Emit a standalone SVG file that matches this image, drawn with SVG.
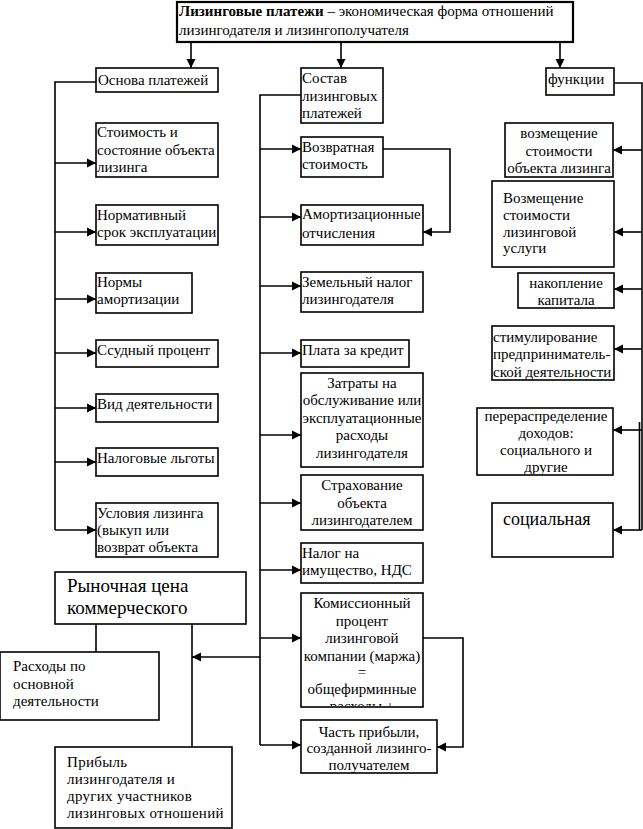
<svg xmlns="http://www.w3.org/2000/svg" width="643" height="829" viewBox="0 0 643 829">
<style>
  .box{fill:#fff;stroke:#000;stroke-width:1.6}
  .t{font-family:"Liberation Serif","Times New Roman",serif;font-size:15px;fill:#000}
  .c{text-anchor:middle}
  .ln{fill:none;stroke:#000;stroke-width:1.6}
  .ar{fill:none;stroke:#000;stroke-width:1.6;marker-end:url(#ah)}
</style>
<defs>
  <marker id="ah" markerUnits="userSpaceOnUse" markerWidth="10" markerHeight="10" refX="9" refY="5" orient="auto">
    <path d="M0,0.5 L9,5 L0,9.5 Z" fill="#000"/>
  </marker>
  <clipPath id="cpKom"><rect x="302" y="594" width="120" height="112"/></clipPath>
  <clipPath id="cpPer"><rect x="478" y="409" width="135" height="65"/></clipPath>
</defs>
<rect width="643" height="829" fill="#fff"/>

<g id="connectors">
  <line class="ar" x1="191" y1="42" x2="191" y2="68"/>
  <line class="ar" x1="341" y1="42" x2="341" y2="68"/>
  <line class="ar" x1="560" y1="42" x2="560" y2="68"/>
  <!-- left trunk -->
  <polyline class="ln" points="96,82 55,82 55,530"/>
  <line class="ar" x1="55" y1="163" x2="96" y2="163"/>
  <line class="ar" x1="55" y1="232" x2="96" y2="232"/>
  <line class="ar" x1="55" y1="299" x2="96" y2="299"/>
  <line class="ar" x1="55" y1="353" x2="96" y2="353"/>
  <line class="ar" x1="55" y1="408" x2="96" y2="408"/>
  <line class="ar" x1="55" y1="462" x2="96" y2="462"/>
  <line class="ar" x1="55" y1="530" x2="96" y2="530"/>
  <!-- middle trunk -->
  <polyline class="ln" points="301,95 260,95 260,745"/>
  <line class="ar" x1="260" y1="149" x2="301" y2="149"/>
  <line class="ar" x1="260" y1="217" x2="301" y2="217"/>
  <line class="ar" x1="260" y1="286" x2="301" y2="286"/>
  <line class="ar" x1="260" y1="353" x2="301" y2="353"/>
  <line class="ar" x1="260" y1="435" x2="301" y2="435"/>
  <line class="ar" x1="260" y1="503" x2="301" y2="503"/>
  <line class="ar" x1="260" y1="570" x2="301" y2="570"/>
  <line class="ar" x1="260" y1="638" x2="301" y2="638"/>
  <line class="ar" x1="260" y1="745" x2="301" y2="745"/>
  <line class="ar" x1="260" y1="657" x2="192" y2="657"/>
  <polyline class="ar" points="383,149 450,149 450,232 423,232"/>
  <polyline class="ar" points="423,638 463,638 463,747 437,747"/>
  <!-- right trunk -->
  <polyline class="ln" points="614,83 642,83 642,530"/>
  <line class="ln" x1="639.5" y1="422" x2="639.5" y2="530"/>
  <line class="ar" x1="642" y1="150" x2="613" y2="150"/>
  <line class="ar" x1="642" y1="232" x2="614" y2="232"/>
  <line class="ar" x1="642" y1="289" x2="614" y2="289"/>
  <line class="ar" x1="642" y1="349" x2="614" y2="349"/>
  <line class="ar" x1="642" y1="430" x2="613" y2="430"/>
  <line class="ar" x1="642" y1="530" x2="613" y2="530"/>
  <!-- market price splits -->
  <line class="ln" x1="96" y1="624" x2="96" y2="652"/>
  <line class="ln" x1="192" y1="624" x2="192" y2="747"/>
</g>

<g id="top">
  <rect class="box" x="177" y="2" width="396" height="40" style="stroke-width:2.2"/>
  <text class="t" x="179" y="16"><tspan font-weight="bold">Лизинговые платежи</tspan> – экономическая форма отношений</text>
  <text class="t" x="179" y="35">лизингодателя и лизингополучателя</text>
</g>

<g id="osnova">
  <rect class="box" x="96" y="68" width="122" height="24"/>
  <text class="t" x="98" y="85">Основа платежей</text>
</g>
<g id="sostav">
  <rect class="box" x="301" y="68" width="82" height="55"/>
  <text class="t" x="302" y="83">Состав</text>
  <text class="t" x="302" y="101">лизинговых</text>
  <text class="t" x="302" y="118">платежей</text>
</g>
<g id="funkcii">
  <rect class="box" x="546" y="68" width="68" height="27"/>
  <text class="t" x="548" y="84">функции</text>
</g>

<g id="stoimost">
  <rect class="box" x="96" y="123" width="122" height="54"/>
  <text class="t" x="97" y="137">Стоимость и</text>
  <text class="t" x="97" y="155">состояние объекта</text>
  <text class="t" x="97" y="172">лизинга</text>
</g>
<g id="normsrok">
  <rect class="box" x="96" y="205" width="122" height="40"/>
  <text class="t" x="97" y="220">Нормативный</text>
  <text class="t" x="97" y="237">срок эксплуатации</text>
</g>
<g id="normy">
  <rect class="box" x="96" y="273" width="96" height="40"/>
  <text class="t" x="97" y="287">Нормы</text>
  <text class="t" x="97" y="304">амортизации</text>
</g>
<g id="ssudny">
  <rect class="box" x="96" y="340" width="122" height="27"/>
  <text class="t" x="97" y="355">Ссудный процент</text>
</g>
<g id="vid">
  <rect class="box" x="96" y="394" width="122" height="28"/>
  <text class="t" x="97" y="409">Вид деятельности</text>
</g>
<g id="nalogl">
  <rect class="box" x="96" y="448" width="122" height="28"/>
  <text class="t" x="97" y="463">Налоговые льготы</text>
</g>
<g id="usloviya">
  <rect class="box" x="96" y="503" width="122" height="54"/>
  <text class="t" x="97" y="518">Условия лизинга</text>
  <text class="t" x="97" y="535">(выкуп или</text>
  <text class="t" x="97" y="552">возврат объекта</text>
</g>

<g id="rynochnaya">
  <rect class="box" x="55" y="572" width="191" height="52"/>
  <text class="t" x="67" y="592" style="font-size:19px">Рыночная цена</text>
  <text class="t" x="67" y="614" style="font-size:19px">коммерческого</text>
</g>
<g id="raskhody">
  <rect class="box" x="0" y="652" width="159" height="68"/>
  <text class="t" x="13" y="671">Расходы по</text>
  <text class="t" x="13" y="689">основной</text>
  <text class="t" x="13" y="706">деятельности</text>
</g>
<g id="pribyl">
  <rect class="box" x="55" y="747" width="177" height="81"/>
  <text class="t" x="67" y="767" letter-spacing="0.3">Прибыль</text>
  <text class="t" x="67" y="784" letter-spacing="0.3">лизингодателя и</text>
  <text class="t" x="67" y="801" letter-spacing="0.3">других участников</text>
  <text class="t" x="67" y="818" letter-spacing="0.3">лизинговых отношений</text>
</g>

<g id="vozvratnaya">
  <rect class="box" x="301" y="137" width="82" height="40"/>
  <text class="t" x="302" y="152">Возвратная</text>
  <text class="t" x="302" y="169">стоимость</text>
</g>
<g id="amort">
  <rect class="box" x="301" y="205" width="122" height="40"/>
  <text class="t" x="302" y="219">Амортизационные</text>
  <text class="t" x="302" y="238">отчисления</text>
</g>
<g id="zemelny">
  <rect class="box" x="301" y="272" width="122" height="40"/>
  <text class="t" x="302" y="287">Земельный налог</text>
  <text class="t" x="302" y="304">лизингодателя</text>
</g>
<g id="plata">
  <rect class="box" x="301" y="340" width="108" height="27"/>
  <text class="t" x="302" y="355">Плата за кредит</text>
</g>
<g id="zatraty">
  <rect class="box" x="301" y="373" width="122" height="94"/>
  <text class="t c" x="362" y="388">Затраты на</text>
  <text class="t c" x="362" y="405">обслуживание или</text>
  <text class="t c" x="362" y="423">эксплуатационные</text>
  <text class="t c" x="362" y="440">расходы</text>
  <text class="t c" x="362" y="458">лизингодателя</text>
</g>
<g id="strakhovanie">
  <rect class="box" x="301" y="475" width="122" height="55"/>
  <text class="t c" x="362" y="490">Страхование</text>
  <text class="t c" x="362" y="508">объекта</text>
  <text class="t c" x="362" y="525">лизингодателем</text>
</g>
<g id="nalogim">
  <rect class="box" x="301" y="543" width="122" height="40"/>
  <text class="t" x="302" y="558">Налог на</text>
  <text class="t" x="302" y="575">имущество, НДС</text>
</g>
<g id="komissia">
  <rect class="box" x="301" y="593" width="122" height="114"/>
  <g clip-path="url(#cpKom)">
    <text class="t c" x="362" y="608">Комиссионный</text>
    <text class="t c" x="362" y="626">процент</text>
    <text class="t c" x="362" y="643">лизинговой</text>
    <text class="t c" x="362" y="661">компании (маржа)</text>
    <text class="t c" x="362" y="677">=</text>
    <text class="t c" x="362" y="694">общефирминные</text>
    <text class="t c" x="362" y="711">расходы +</text>
  </g>
</g>
<g id="chast">
  <rect class="box" x="301" y="720" width="136" height="53"/>
  <text class="t c" x="369" y="737">Часть прибыли,</text>
  <text class="t c" x="369" y="753">созданной лизинго-</text>
  <text class="t c" x="369" y="770">получателем</text>
</g>

<g id="vozm1">
  <rect class="box" x="505" y="123" width="108" height="54"/>
  <text class="t c" x="559" y="138">возмещение</text>
  <text class="t c" x="559" y="156">стоимости</text>
  <text class="t c" x="559" y="173">объекта лизинга</text>
</g>
<g id="vozm2">
  <rect class="box" x="492" y="181" width="122" height="86"/>
  <text class="t" x="503" y="203">Возмещение</text>
  <text class="t" x="503" y="220">стоимости</text>
  <text class="t" x="503" y="237">лизинговой</text>
  <text class="t" x="503" y="253">услуги</text>
</g>
<g id="nakoplenie">
  <rect class="box" x="518" y="273" width="96" height="35"/>
  <text class="t c" x="566" y="288">накопление</text>
  <text class="t c" x="566" y="305">капитала</text>
</g>
<g id="stimul">
  <rect class="box" x="492" y="326" width="122" height="54"/>
  <text class="t" x="493" y="342">стимулирование</text>
  <text class="t" x="493" y="359">предприниматель-</text>
  <text class="t" x="493" y="377">ской деятельности</text>
</g>
<g id="pereraspr">
  <rect class="box" x="477" y="408" width="136" height="67"/>
  <g clip-path="url(#cpPer)">
    <text class="t c" x="546" y="421">перераспределение</text>
    <text class="t c" x="546" y="438">доходов:</text>
    <text class="t c" x="546" y="455">социального и</text>
    <text class="t c" x="546" y="472">другие</text>
  </g>
</g>
<g id="socialnaya">
  <rect class="box" x="492" y="503" width="121" height="54"/>
  <text class="t" x="503" y="525" style="font-size:18px">социальная</text>
</g>
</svg>
